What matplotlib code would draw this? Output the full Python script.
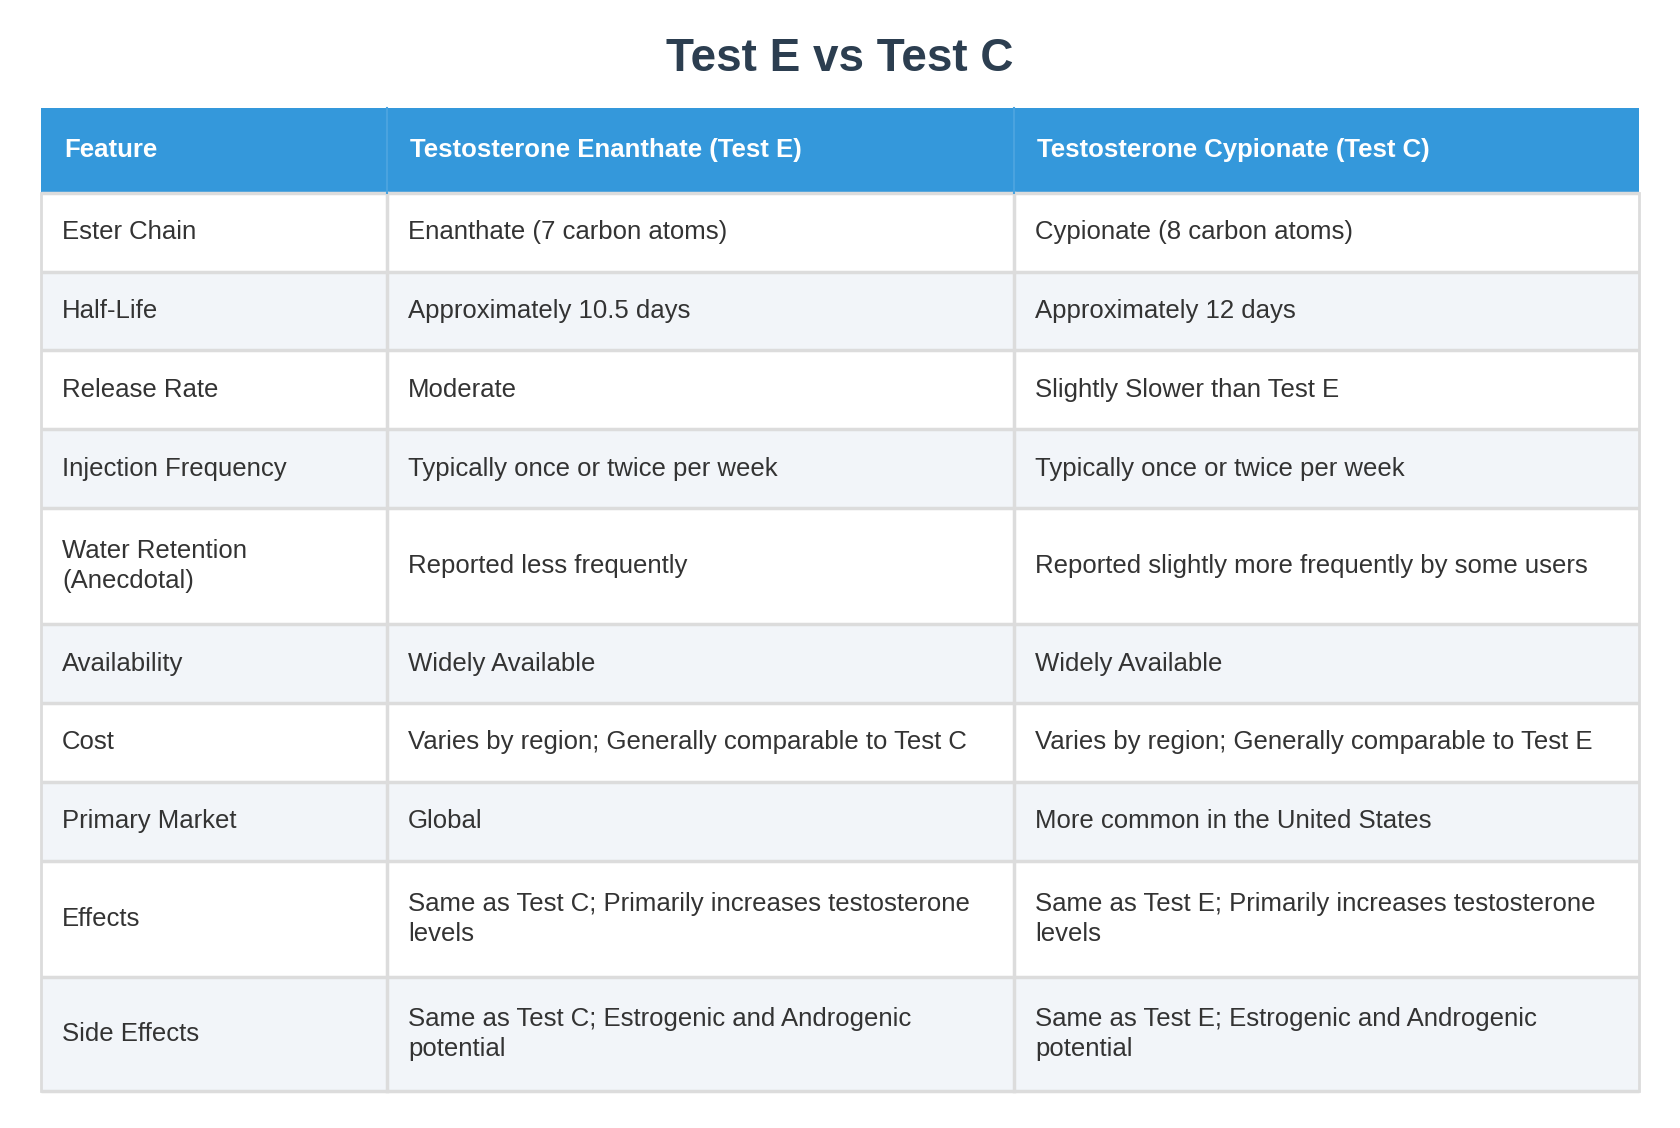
import matplotlib
matplotlib.use("Agg")
import matplotlib.pyplot as plt
from matplotlib.patches import Rectangle

title = "Test E vs Test C"
headers = ["Feature", "Testosterone Enanthate (Test E)", "Testosterone Cypionate (Test C)"]
features = ["Ester Chain", "Half-Life", "Release Rate", "Injection Frequency",
            "Water Retention\n(Anecdotal)", "Availability", "Cost", "Primary Market",
            "Effects", "Side Effects"]
test_e = ["Enanthate (7 carbon atoms)", "Approximately 10.5 days", "Moderate",
          "Typically once or twice per week", "Reported less frequently", "Widely Available",
          "Varies by region; Generally comparable to Test C", "Global",
          "Same as Test C; Primarily increases testosterone\nlevels",
          "Same as Test C; Estrogenic and Androgenic\npotential"]
test_c = ["Cypionate (8 carbon atoms)", "Approximately 12 days", "Slightly Slower than Test E",
          "Typically once or twice per week", "Reported slightly more frequently by some users",
          "Widely Available", "Varies by region; Generally comparable to Test E",
          "More common in the United States",
          "Same as Test E; Primarily increases testosterone\nlevels",
          "Same as Test E; Estrogenic and Androgenic\npotential"]

W, H = 1568, 1046
fig = plt.figure(figsize=(16.8, 11.28), dpi=100)
ax = fig.add_axes([0, 0, 1, 1])
ax.set_xlim(0, W); ax.set_ylim(H, 0); ax.axis("off")
plt.rcParams['font.family'] = ['Liberation Sans', 'DejaVu Sans']

ax.text(W/2, 55, title, ha="center", va="center", fontsize=33, fontweight="bold", color="#2c3e50")

cols = [38, 361, 946, 1530]
header_top, header_bot = 100, 179
row_bounds = [179, 252, 325, 398, 471, 579, 652, 725, 798, 906, 1012]

ax.add_patch(Rectangle((cols[0], header_top), cols[-1]-cols[0], header_bot-header_top,
                       facecolor="#3498db", edgecolor="none"))
for i, h in enumerate(headers):
    ax.text(cols[i]+22, (header_top+header_bot)/2, h, ha="left", va="center",
            fontsize=18.5, fontweight="bold", color="white")

for r in range(len(features)):
    y0, y1 = row_bounds[r], row_bounds[r+1]
    fc = "white" if r % 2 == 0 else "#f2f5f9"
    ax.add_patch(Rectangle((cols[0], y0), cols[-1]-cols[0], y1-y0, facecolor=fc, edgecolor="none"))
    for i, txt in enumerate([features[r], test_e[r], test_c[r]]):
        ax.text(cols[i]+20, (y0+y1)/2, txt, ha="left", va="center", fontsize=18.5,
                color="#333333", linespacing=1.3)

lc = "#dcdcdc"
for y in row_bounds:
    ax.plot([cols[0], cols[-1]], [y, y], color=lc, lw=2.5, solid_capstyle="butt")
for x in cols:
    ax.plot([x, x], [header_bot, row_bounds[-1]], color=lc, lw=2 if x in (cols[0], cols[-1]) else 2.5)
for x in cols[1:-1]:
    ax.plot([x, x], [header_top, header_bot], color="#4aa3df", lw=1.5)

fig.savefig("out.png", dpi=100, facecolor="white")
